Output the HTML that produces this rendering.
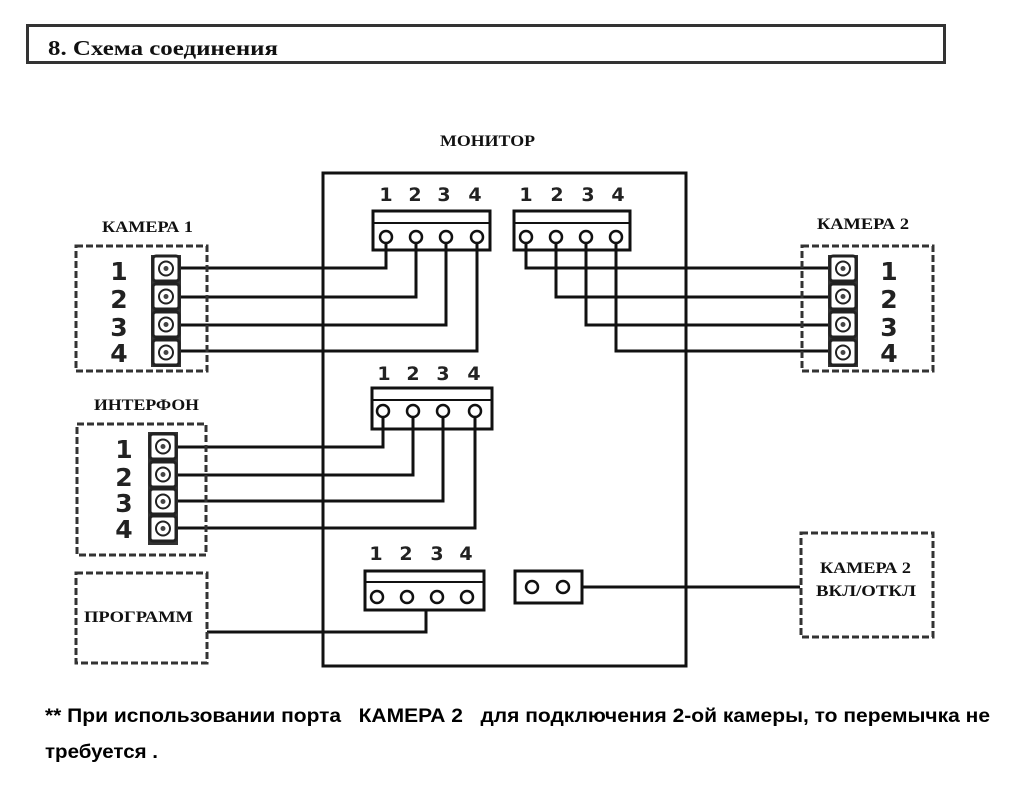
<!DOCTYPE html>
<html><head><meta charset="utf-8"><style>
html,body{margin:0;padding:0;background:#fff;}
svg{display:block;}
.s{font-family:"Liberation Serif","DejaVu Serif",serif;font-weight:bold;fill:#111;}
.n{font-family:"DejaVu Sans","Liberation Sans",sans-serif;font-weight:bold;fill:#222;}
.t{font-family:"Liberation Sans","DejaVu Sans",sans-serif;font-weight:bold;fill:#000;}
</style></head><body>
<svg width="1020" height="785" viewBox="0 0 1020 785" xmlns="http://www.w3.org/2000/svg">
<defs>
<g id="scr"><rect x="0" y="0" width="26" height="25" rx="3" fill="#fff" stroke="#222" stroke-width="3"/><circle cx="13" cy="12.5" r="7" fill="#fff" stroke="#222" stroke-width="2"/><circle cx="13" cy="12.5" r="2.5" fill="#444"/></g>
</defs>
<!-- header -->
<rect x="27.5" y="25.5" width="917" height="37" fill="#fff" stroke="#333" stroke-width="3"/>
<text x="48" y="55" class="s" font-size="21" textLength="230" lengthAdjust="spacingAndGlyphs">8. Схема соединения</text>
<text x="440" y="146" class="s" font-size="16" textLength="95" lengthAdjust="spacingAndGlyphs">МОНИТОР</text>
<!-- monitor -->
<rect x="323" y="173" width="363" height="493" fill="none" stroke="#111" stroke-width="3"/>

<g stroke="#111" fill="none">
<rect x="373" y="211" width="117" height="39" stroke-width="3"/>
<line x1="373" y1="223" x2="490" y2="223" stroke-width="2"/>
<rect x="514" y="211" width="116" height="39" stroke-width="3"/>
<line x1="514" y1="223" x2="630" y2="223" stroke-width="2"/>
<rect x="372" y="388" width="120" height="41" stroke-width="3"/>
<line x1="372" y1="400" x2="492" y2="400" stroke-width="2"/>
<rect x="365" y="571" width="119" height="39" stroke-width="3"/>
<line x1="365" y1="582" x2="484" y2="582" stroke-width="2"/>
<rect x="515" y="571" width="67" height="32" stroke-width="3"/>

<g stroke-width="3">
<polyline points="180,268 386,268 386,243"/>
<polyline points="180,297 416,297 416,243"/>
<polyline points="180,325 446,325 446,243"/>
<polyline points="180,351 477,351 477,243"/>
<polyline points="526,243 526,268 830,268"/>
<polyline points="556,243 556,297 830,297"/>
<polyline points="586,243 586,325 830,325"/>
<polyline points="616,243 616,351 830,351"/>
<polyline points="178,447 383,447 383,417"/>
<polyline points="178,475 413,475 413,417"/>
<polyline points="178,501 443,501 443,417"/>
<polyline points="178,528 475,528 475,417"/>
<polyline points="207,632 426,632 426,610"/>
<line x1="582" y1="587" x2="800" y2="587"/>
</g>

<g fill="#fff" stroke-width="2.5">
<circle cx="386" cy="237" r="6"/><circle cx="416" cy="237" r="6"/><circle cx="446" cy="237" r="6"/><circle cx="477" cy="237" r="6"/>
<circle cx="526" cy="237" r="6"/><circle cx="556" cy="237" r="6"/><circle cx="586" cy="237" r="6"/><circle cx="616" cy="237" r="6"/>
<circle cx="383" cy="411" r="6"/><circle cx="413" cy="411" r="6"/><circle cx="443" cy="411" r="6"/><circle cx="475" cy="411" r="6"/>
<circle cx="377" cy="597" r="6"/><circle cx="407" cy="597" r="6"/><circle cx="437" cy="597" r="6"/><circle cx="467" cy="597" r="6"/>
<circle cx="532" cy="587" r="6"/><circle cx="563" cy="587" r="6"/>
</g>

<g stroke="#333" stroke-width="3" stroke-dasharray="7,3">
<rect x="76" y="246" width="131" height="125"/>
<rect x="802" y="246" width="131" height="125"/>
<rect x="77" y="424" width="129" height="131"/>
<rect x="76" y="573" width="131" height="90"/>
<rect x="801" y="533" width="132" height="104"/>
</g>
</g>
<rect x="151" y="255" width="30" height="112" fill="#333"/>
<use href="#scr" x="153" y="256"/><use href="#scr" x="153" y="284"/><use href="#scr" x="153" y="312"/><use href="#scr" x="153" y="340"/>
<rect x="828" y="255" width="30" height="112" fill="#333"/>
<use href="#scr" x="830" y="256"/><use href="#scr" x="830" y="284"/><use href="#scr" x="830" y="312"/><use href="#scr" x="830" y="340"/>
<rect x="148" y="432" width="30" height="113" fill="#333"/>
<use href="#scr" x="150" y="434"/><use href="#scr" x="150" y="462"/><use href="#scr" x="150" y="489"/><use href="#scr" x="150" y="516"/>

<text x="102" y="232" class="s" font-size="16" textLength="91" lengthAdjust="spacingAndGlyphs">КАМЕРА 1</text>
<text x="817" y="229" class="s" font-size="16" textLength="92" lengthAdjust="spacingAndGlyphs">КАМЕРА 2</text>
<text x="94" y="410" class="s" font-size="16" textLength="105" lengthAdjust="spacingAndGlyphs">ИНТЕРФОН</text>
<text x="84" y="622" class="s" font-size="16" textLength="109" lengthAdjust="spacingAndGlyphs">ПРОГРАММ</text>
<text x="820" y="573" class="s" font-size="16" textLength="91" lengthAdjust="spacingAndGlyphs">КАМЕРА 2</text>
<text x="816" y="596" class="s" font-size="16" textLength="100" lengthAdjust="spacingAndGlyphs">ВКЛ/ОТКЛ</text>

<g class="n" font-size="25" text-anchor="middle">
<text x="119" y="280">1</text><text x="119" y="308">2</text><text x="119" y="336">3</text><text x="119" y="362">4</text>
<text x="889" y="280">1</text><text x="889" y="308">2</text><text x="889" y="336">3</text><text x="889" y="362">4</text>
<text x="124" y="458">1</text><text x="124" y="486">2</text><text x="124" y="512">3</text><text x="124" y="538">4</text>
</g>
<g class="n" font-size="19" text-anchor="middle">
<text x="386" y="201">1</text><text x="415" y="201">2</text><text x="444" y="201">3</text><text x="475" y="201">4</text>
<text x="526" y="201">1</text><text x="557" y="201">2</text><text x="588" y="201">3</text><text x="618" y="201">4</text>
<text x="384" y="380">1</text><text x="413" y="380">2</text><text x="443" y="380">3</text><text x="474" y="380">4</text>
<text x="376" y="560">1</text><text x="406" y="560">2</text><text x="437" y="560">3</text><text x="466" y="560">4</text>
</g>

<text x="45" y="722" class="t" font-size="19" xml:space="preserve" textLength="945" lengthAdjust="spacingAndGlyphs">** При использовании порта   КАМЕРА 2   для подключения 2-ой камеры, то перемычка не</text>
<text x="45" y="758" class="t" font-size="19" textLength="113" lengthAdjust="spacingAndGlyphs">требуется .</text>
</svg>
</body></html>
